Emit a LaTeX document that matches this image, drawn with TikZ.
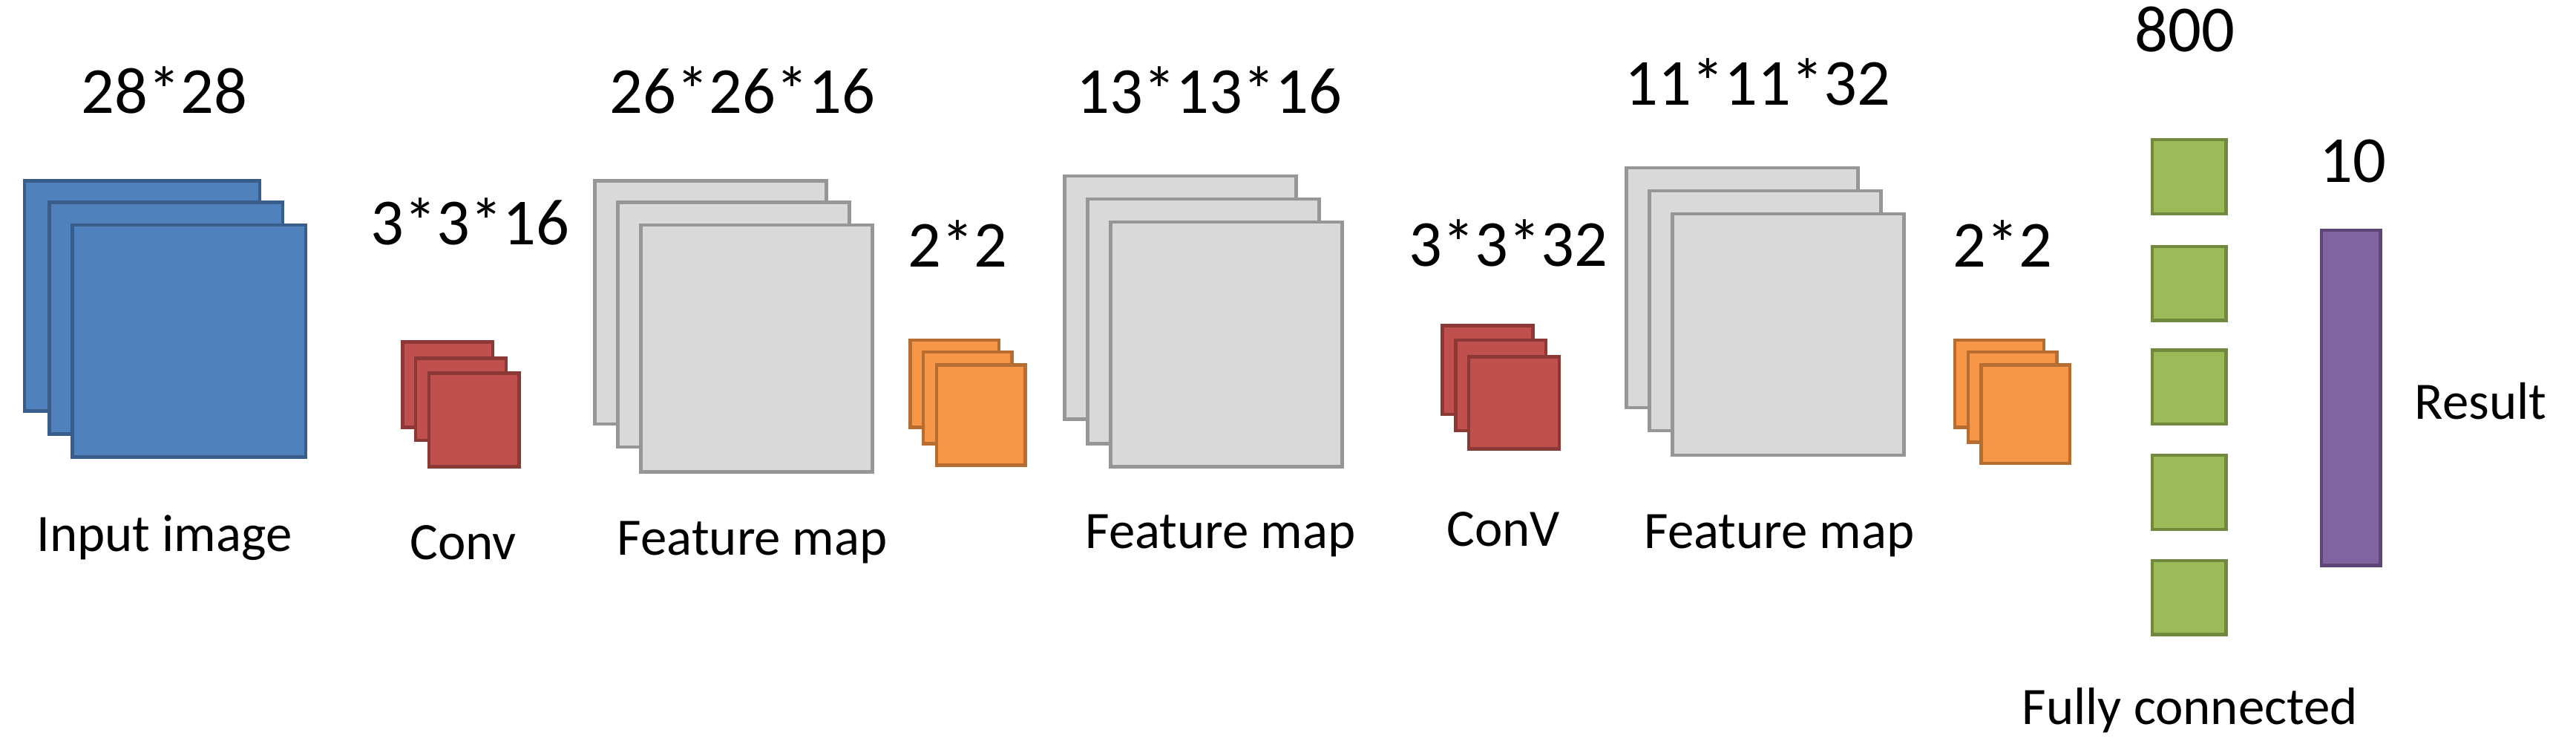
\documentclass[tikz,border=0pt]{standalone}
\usepackage{fontspec}
\setmainfont{Carlito}
\newcommand{\sq}[6]{\node[#6, minimum width={#4*0.5pt}, minimum height={#5*0.5pt}] (#1) at (#2,#3) {};}
\tikzset{
 base/.style={draw, inner sep=0pt, line width=1pt},
 blue/.style={base, fill={rgb,255:red,79;green,129;blue,189}, draw={rgb,255:red,56;green,93;blue,138}},
 red/.style={base, fill={rgb,255:red,192;green,80;blue,77}, draw={rgb,255:red,140;green,56;blue,54}},
 gray/.style={base, fill={rgb,255:red,217;green,217;blue,217}, draw={rgb,255:red,150;green,150;blue,150}},
 orange/.style={base, fill={rgb,255:red,247;green,150;blue,70}, draw={rgb,255:red,182;green,109;blue,49}},
 green/.style={base, fill={rgb,255:red,155;green,187;blue,89}, draw={rgb,255:red,113;green,137;blue,63}},
 purple/.style={base, fill={rgb,255:red,128;green,100;blue,162}, draw={rgb,255:red,92;green,71;blue,118}},
 big/.style={font=\fontsize{20}{24}\selectfont, inner sep=0pt},
 small/.style={font=\fontsize{16}{19}\selectfont, inner sep=0pt}
}
\begin{document}
\begin{tikzpicture}[x=0.5pt,y=-0.5pt]
\useasboundingbox (0,0) rectangle (1568,456);
% input
\sq{in1}{86.5}{180}{143}{140}{blue}
\sq{in2}{101}{193.5}{142}{141}{blue}
\sq{in3}{115}{207.5}{142}{141}{blue}
\node[big] (t1) at (100,55) {28*28};
\node[small] (l1) at (100,327) {Input image};
% conv1
\sq{c1a}{272.5}{234}{55}{52}{red}
\sq{c1b}{280.5}{243}{55}{50}{red}
\sq{c1c}{288.5}{255.5}{55}{57}{red}
\node[big] (t2) at (286,135) {3*3*16};
\node[small] (l2) at (282,330) {Conv};
% fm1
\sq{f1a}{432.5}{184}{141}{148}{gray}
\sq{f1b}{446.5}{197.5}{141}{149}{gray}
\sq{f1c}{460.5}{212}{141}{150}{gray}
\node[big] (t3) at (452,55) {26*26*16};
\node[small] (l3) at (458,330) {Feature map};
% pool1
\sq{p1a}{581}{233.5}{54}{53}{orange}
\sq{p1b}{589}{242}{54}{56}{orange}
\sq{p1c}{597}{252.5}{54}{61}{orange}
\node[big] (t4) at (583,148) {2*2};
% fm2
\sq{f2a}{718.5}{181}{141}{148}{gray}
\sq{f2b}{732.5}{195.5}{141}{149}{gray}
\sq{f2c}{746.5}{209.5}{141}{149}{gray}
\node[big] (t5) at (736,55) {13*13*16};
\node[small] (l5) at (743,326) {Feature map};
% conv2
\sq{c2a}{905.5}{225}{55}{54}{red}
\sq{c2b}{913.5}{234.5}{55}{55}{red}
\sq{c2c}{921.5}{245}{55}{56}{red}
\node[big] (t6) at (918,148) {3*3*32};
\node[small] (l6) at (915,322) {ConV};
% fm3
\sq{f3a}{1060.5}{175}{141}{146}{gray}
\sq{f3b}{1074.5}{189}{141}{146}{gray}
\sq{f3c}{1088.5}{203.5}{141}{147}{gray}
\node[big] (t7) at (1070,50) {11*11*32};
\node[small] (l7) at (1083,326) {Feature map};
% pool2
\sq{p2a}{1217}{233.5}{54}{53}{orange}
\sq{p2b}{1225}{241.5}{54}{55}{orange}
\sq{p2c}{1233}{252}{54}{60}{orange}
\node[big] (t8) at (1219,148) {2*2};
% fc
\sq{g1}{1332.5}{107.5}{45}{45}{green}
\sq{g2}{1332.5}{172.5}{45}{45}{green}
\sq{g3}{1332.5}{235.5}{45}{45}{green}
\sq{g4}{1332.5}{299.5}{45}{45}{green}
\sq{g5}{1332.5}{363.5}{45}{45}{green}
\node[big] (t9) at (1330,18) {800};
\node[small] (l9) at (1333,432) {Fully connected};
% result
\sq{r}{1431}{242}{36}{204}{purple}
\node[big] (t10) at (1432,98) {10};
\node[small] (l10) at (1510,244) {Result};
\end{tikzpicture}
\end{document}
